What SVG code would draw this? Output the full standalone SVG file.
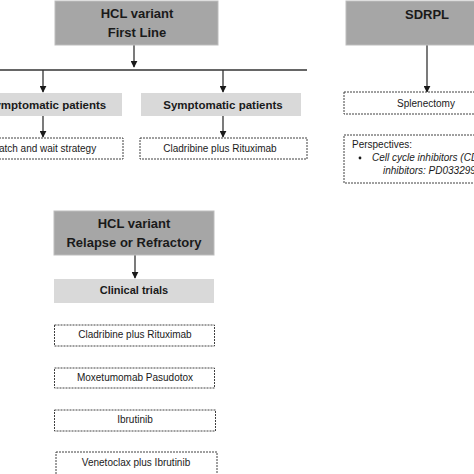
<svg xmlns="http://www.w3.org/2000/svg" width="474" height="474" viewBox="0 0 474 474">
<style>
.dark{fill:#a6a6a6;stroke:#bdbdbd;stroke-width:1}
.light{fill:#d9d9d9;stroke:none}
.dash{fill:#ffffff;stroke:#404040;stroke-width:1;stroke-dasharray:2,1}
.t{font-family:"Liberation Sans",Arial,sans-serif;fill:#1a1a1a;text-anchor:middle}
.h{font-size:13px;font-weight:bold}
.s{font-size:11.5px;font-weight:bold}
.n{font-size:10px}
.c{stroke:#333333;stroke-width:1.3;fill:none}
</style>
<defs>
<marker id="ah" viewBox="0 0 10 10" refX="9" refY="5" markerWidth="7" markerHeight="7" markerUnits="userSpaceOnUse" orient="auto">
<path d="M0,0 L10,5 L0,10 z" fill="#1a1a1a"/>
</marker>
</defs>
<rect width="474" height="474" fill="#ffffff"/>
<g id="connectors">
<line class="c" x1="134" y1="45" x2="134" y2="67" marker-end="url(#ah)"/>
<line class="c" x1="0" y1="70" x2="307" y2="70"/>
<line class="c" x1="43" y1="70" x2="43" y2="92" marker-end="url(#ah)"/>
<line class="c" x1="223" y1="70" x2="223" y2="92" marker-end="url(#ah)"/>
<line class="c" x1="43" y1="116" x2="43" y2="137" marker-end="url(#ah)"/>
<line class="c" x1="223" y1="116" x2="223" y2="137" marker-end="url(#ah)"/>
<line class="c" x1="427" y1="45" x2="427" y2="92" marker-end="url(#ah)"/>
<line class="c" x1="135" y1="255" x2="135" y2="278" marker-end="url(#ah)"/>
</g>
<g id="hcl-first-line">
<rect class="dark" x="55" y="1" width="163" height="44"/>
<text class="t h" x="137" y="18">HCL variant</text>
<text class="t h" x="137" y="37">First Line</text>
</g>
<g id="sdrpl">
<rect class="dark" x="346" y="1" width="140" height="44"/>
<text class="t h" x="427" y="19">SDRPL</text>
</g>
<g id="asymptomatic">
<rect class="light" x="-36" y="93" width="158" height="23"/>
<text class="t s" x="43" y="109">Asymptomatic patients</text>
</g>
<g id="symptomatic">
<rect class="light" x="141" y="93" width="160" height="23"/>
<text class="t s" x="223" y="109">Symptomatic patients</text>
</g>
<g id="watch-wait">
<rect class="dash" x="-40" y="138" width="163" height="21"/>
<text class="t n" x="43" y="152">Watch and wait strategy</text>
</g>
<g id="cladribine-first">
<rect class="dash" x="140" y="138" width="167" height="21"/>
<text class="t n" x="220" y="152">Cladribine plus Rituximab</text>
</g>
<g id="splenectomy">
<rect class="dash" x="344" y="92" width="150" height="22"/>
<text class="t n" x="426" y="107">Splenectomy</text>
</g>
<g id="perspectives">
<rect class="dash" x="344" y="135" width="150" height="48"/>
<text class="n" x="352" y="148" style="font-family:'Liberation Sans',Arial,sans-serif;fill:#1a1a1a">Perspectives:</text>
<circle cx="360" cy="158" r="1.4" fill="#1a1a1a"/>
<text class="n" x="372" y="161" style="font-family:'Liberation Sans',Arial,sans-serif;fill:#1a1a1a;font-style:italic">Cell cycle  inhibitors (CDK4/6</text>
<text class="n" x="383" y="174" style="font-family:'Liberation Sans',Arial,sans-serif;fill:#1a1a1a;font-style:italic">inhibitors: PD0332991)</text>
</g>
<g id="hcl-relapse">
<rect class="dark" x="54" y="211" width="160" height="44"/>
<text class="t h" x="134" y="228">HCL variant</text>
<text class="t h" x="134" y="247">Relapse or Refractory</text>
</g>
<g id="clinical-trials">
<rect class="light" x="54" y="279" width="160" height="24"/>
<text class="t s" x="134" y="294" style="font-size:11px">Clinical trials</text>
</g>
<g id="cladribine-relapse">
<rect class="dash" x="54.5" y="325" width="160" height="21"/>
<text class="t n" x="135" y="338">Cladribine plus Rituximab</text>
</g>
<g id="moxetumomab">
<rect class="dash" x="54.5" y="368" width="160" height="20"/>
<text class="t n" x="135" y="381">Moxetumomab  Pasudotox</text>
</g>
<g id="ibrutinib">
<rect class="dash" x="54.5" y="410" width="161" height="21"/>
<text class="t n" x="135" y="423">Ibrutinib</text>
</g>
<g id="venetoclax">
<rect class="dash" x="56" y="452" width="161" height="24"/>
<text class="t n" x="136" y="466">Venetoclax plus Ibrutinib</text>
</g>
</svg>
